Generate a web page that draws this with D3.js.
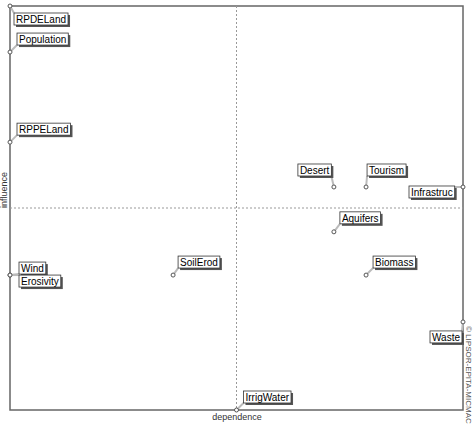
<!DOCTYPE html><html><head><script src="https://cdn.jsdelivr.net/npm/d3@7"></script>
<style>body{margin:0;background:#fff}</style></head><body><svg id="c" width="474" height="424"></svg>
<script>
const names=["RPDELand","Population","RPPELand","Wind","Erosivity","SoilErod","IrrigWater","Desert","Tourism","Infrastruc","Aquifers","Biomass","Waste"];
const dependence=[0,0,0,0,0,36,50,71.5,78.6,100,71.5,78.6,100];
const influence=[100,88.6,66.3,33.4,33.4,33.4,0,55.2,55.2,55.2,44.1,33.4,21.8];
const labelDx=[4,7,7,9,9,5,7,-36,1,-54,6,7,-33];
const labelDy=[7,-19,-19,-13,0,-19,-19,-23,-23,-1,-20,-19,9];
const svg=d3.select("#c");
const L=10,R=463,T=6,B=410;
const x=d3.scaleLinear().domain([0,100]).range([L,R]);
const y=d3.scaleLinear().domain([0,100]).range([B,T]);
svg.append("rect").attr("x",L).attr("y",T).attr("width",R-L).attr("height",B-T).attr("fill","none").attr("stroke","#666").attr("stroke-width",1.5);
svg.append("line").attr("x1",x(50)).attr("x2",x(50)).attr("y1",T).attr("y2",B).attr("stroke","#999").attr("stroke-dasharray","2,2");
svg.append("line").attr("y1",y(50)).attr("y2",y(50)).attr("x1",L).attr("x2",R).attr("stroke","#999").attr("stroke-dasharray","2,2");
const font="Liberation Sans, Arial, sans-serif";
names.forEach((n,i)=>{
  const px=x(dependence[i]),py=y(influence[i]);
  const g=svg.append("g");
  const t=g.append("text").attr("font-family",font).attr("font-size",10).attr("fill","#000").text(n);
  const w=t.node().getComputedTextLength()+4;
  const bx=px+labelDx[i],by=py+labelDy[i];
  const cx=Math.max(bx,Math.min(px,bx+w)),cy=Math.max(by,Math.min(py,by+12));
  g.insert("line",":first-child").attr("x1",px).attr("y1",py).attr("x2",cx).attr("y2",cy).attr("stroke","#bbb").attr("stroke-width",2);
  g.insert("rect","text").attr("x",bx+2).attr("y",by+2).attr("width",w).attr("height",12).attr("fill","#555");
  g.insert("rect","text").attr("x",bx).attr("y",by).attr("width",w).attr("height",12).attr("fill","#fff").attr("stroke","#333").attr("stroke-width",0.8);
  t.attr("x",bx+2).attr("y",by+10);
  g.append("circle").attr("cx",px).attr("cy",py).attr("r",2).attr("fill","#fff").attr("stroke","#555");
});
svg.append("text").attr("x",237).attr("y",420).attr("text-anchor","middle").attr("font-family",font).attr("font-size",9).attr("fill","#333").text("dependence");
svg.append("text").attr("transform","translate(7,190) rotate(-90)").attr("text-anchor","middle").attr("font-family",font).attr("font-size",9).attr("fill","#333").text("influence");
svg.append("text").attr("transform","translate(466,326) rotate(90)").attr("font-family",font).attr("font-size",8).attr("fill","#555").text("© LIPSOR-EPITA-MICMAC");
</script></body></html>
